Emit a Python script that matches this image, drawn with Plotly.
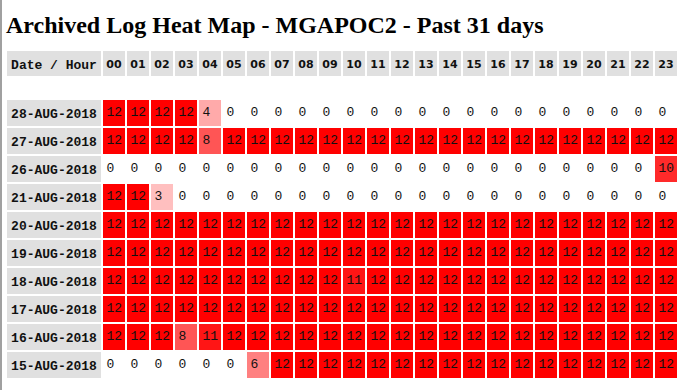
import plotly.graph_objects as go

W, H = 690, 390

title = "Archived Log Heat Map - MGAPOC2 - Past 31 days"
corner_label = "Date / Hour"
hours = ["00", "01", "02", "03", "04", "05", "06", "07", "08", "09", "10", "11",
         "12", "13", "14", "15", "16", "17", "18", "19", "20", "21", "22", "23"]
dates = ["28-AUG-2018", "27-AUG-2018", "26-AUG-2018", "21-AUG-2018", "20-AUG-2018",
         "19-AUG-2018", "18-AUG-2018", "17-AUG-2018", "16-AUG-2018", "15-AUG-2018"]

row_28 = [12, 12, 12, 12, 4, 0, 0, 0, 0, 0, 0, 0, 0, 0, 0, 0, 0, 0, 0, 0, 0, 0, 0, 0]
row_27 = [12, 12, 12, 12, 8, 12, 12, 12, 12, 12, 12, 12, 12, 12, 12, 12, 12, 12, 12, 12, 12, 12, 12, 12]
row_26 = [0, 0, 0, 0, 0, 0, 0, 0, 0, 0, 0, 0, 0, 0, 0, 0, 0, 0, 0, 0, 0, 0, 0, 10]
row_21 = [12, 12, 3, 0, 0, 0, 0, 0, 0, 0, 0, 0, 0, 0, 0, 0, 0, 0, 0, 0, 0, 0, 0, 0]
row_20 = [12, 12, 12, 12, 12, 12, 12, 12, 12, 12, 12, 12, 12, 12, 12, 12, 12, 12, 12, 12, 12, 12, 12, 12]
row_19 = [12, 12, 12, 12, 12, 12, 12, 12, 12, 12, 12, 12, 12, 12, 12, 12, 12, 12, 12, 12, 12, 12, 12, 12]
row_18 = [12, 12, 12, 12, 12, 12, 12, 12, 12, 12, 11, 12, 12, 12, 12, 12, 12, 12, 12, 12, 12, 12, 12, 12]
row_17 = [12, 12, 12, 12, 12, 12, 12, 12, 12, 12, 12, 12, 12, 12, 12, 12, 12, 12, 12, 12, 12, 12, 12, 12]
row_16 = [12, 12, 12, 8, 11, 12, 12, 12, 12, 12, 12, 12, 12, 12, 12, 12, 12, 12, 12, 12, 12, 12, 12, 12]
row_15 = [0, 0, 0, 0, 0, 0, 6, 12, 12, 12, 12, 12, 12, 12, 12, 12, 12, 12, 12, 12, 12, 12, 12, 12]

values = [row_28, row_27, row_26, row_21, row_20, row_19, row_18, row_17, row_16, row_15]
max_logs = 12

# ---- styling / layout helpers ----
GRAY = "#e0e0e0"
TEXT_PAD = 0.19  # left padding of cell text, in cell units


def px_x(a, b):
    return [a / W, b / W]


def px_y(top, bottom):
    return [(H - bottom) / H, (H - top) / H]


col_idx = list(range(len(hours)))
fig = go.Figure()

# main heat map
fig.add_trace(go.Heatmap(
    z=values, x=col_idx, y=dates, xaxis="x", yaxis="y",
    zmin=0, zmax=max_logs,
    colorscale=[[0, "#ffffff"], [1, "#ff0000"]],
    xgap=2, ygap=2, showscale=False, hoverinfo="skip",
))

# cell values (left aligned)
tx, ty, tt = [], [], []
for r, d in enumerate(dates):
    for c in col_idx:
        tx.append(c - 0.5 + TEXT_PAD)
        ty.append(d)
        tt.append(str(values[r][c]))
fig.add_trace(go.Scatter(
    x=tx, y=ty, text=tt, mode="text", textposition="middle right",
    textfont=dict(family="Liberation Mono", size=13, color="#111111", shadow="none"),
    xaxis="x", yaxis="y", hoverinfo="skip", showlegend=False,
))

gray_scale = [[0, GRAY], [1, GRAY]]

# date labels column
fig.add_trace(go.Heatmap(
    z=[[0] for _ in dates], x=[0], y=dates, text=[[d] for d in dates],
    texttemplate="%{text}",
    textfont=dict(family="Liberation Mono", size=13, color="#111111", weight="bold", shadow="none"),
    colorscale=gray_scale, xgap=2, ygap=2, showscale=False, hoverinfo="skip",
    xaxis="x2", yaxis="y",
))

# hours header row
fig.add_trace(go.Heatmap(
    z=[[0] * len(hours)], x=col_idx, y=[0], text=[hours],
    texttemplate="%{text}",
    textfont=dict(family="DejaVu Sans", size=11, color="#111111", weight="bold", shadow="none"),
    colorscale=gray_scale, xgap=2, ygap=2, showscale=False, hoverinfo="skip",
    xaxis="x", yaxis="y2",
))

# corner cell
fig.add_trace(go.Heatmap(
    z=[[0]], x=[0], y=[0], text=[[corner_label]],
    texttemplate="%{text}",
    textfont=dict(family="Liberation Mono", size=13, color="#111111", weight="bold", shadow="none"),
    colorscale=gray_scale, xgap=2, ygap=2, showscale=False, hoverinfo="skip",
    xaxis="x2", yaxis="y2",
))

hidden = dict(showgrid=False, zeroline=False, showticklabels=False, ticks="", showline=False)

fig.update_layout(
    width=W, height=H,
    margin=dict(l=0, r=0, t=0, b=0),
    paper_bgcolor="white", plot_bgcolor="white",
    showlegend=False,
    title=dict(
        text=title, x=6 / W, xanchor="left", xref="paper",
        y=1 - 25 / H, yanchor="middle", yref="paper",
        font=dict(family="Liberation Serif", size=24, color="#000000", weight="bold"),
    ),
    xaxis=dict(domain=px_x(102, 678), range=[-0.5, len(hours) - 0.5], **hidden),
    xaxis2=dict(domain=px_x(6, 102), range=[-0.5, 0.5], **hidden),
    yaxis=dict(domain=px_y(99, 379), type="category", categoryorder="array",
               categoryarray=dates, autorange="reversed", **hidden),
    yaxis2=dict(domain=px_y(50, 77), range=[-0.5, 0.5], **hidden),
    shapes=[dict(type="line", xref="paper", yref="paper", x0=1 / W, x1=1 / W, y0=0, y1=1,
                 line=dict(color="#a0a0a0", width=2))],
)

fig.write_html(
    "out.html",
    config={"displayModeBar": False, "staticPlot": True},
    post_script="document.body.style.margin='0';document.body.style.overflow='hidden';",
)
